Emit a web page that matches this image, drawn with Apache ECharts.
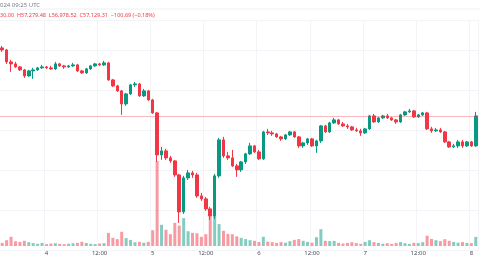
<!DOCTYPE html>
<html>
<head>
<meta charset="utf-8">
<script src="https://cdn.jsdelivr.net/npm/echarts@6/dist/echarts.min.js"></script>
<style>
  html, body { margin: 0; padding: 0; background: #fff; }
  #main { width: 480px; height: 270px; }
</style>
</head>
<body>
<div id="main"></div>
<script>
// 1h candles, Aug 3 14:00 -> Aug 8 01:00 UTC
var startDay = 3, startHour = 14, candleCount = 108;
var hours = [];
for (var k = 0; k < candleCount; k++) {
  var h = startHour + k;
  hours.push({ day: startDay + Math.floor(h / 24), hour: h % 24 });
}
var categories = hours.map(function (t) {
  return 'Aug ' + t.day + ' ' + (t.hour < 10 ? '0' : '') + t.hour + ':00';
});

var opens = [62569,62409,61449,61289,61049,60809,60329,60729,60809,60969,61049,60969,60889,61289,61129,61049,61129,61209,60729,60569,60889,61129,61289,61209,
  61369,60009,59529,59129,58089,58889,59609,59689,58729,59129,58409,57369,54009,54329,53769,53529,52409,49449,52169,52569,52409,50729,50489,49689,
  49129,52329,55209,53929,53769,53129,52809,53449,54089,54729,54249,53689,55849,55769,55689,55449,55289,55609,55849,55449,54729,54969,55289,54729,
  55129,56329,55849,56569,56809,56489,56329,56249,56009,55929,55769,56089,57129,56649,56969,57129,56969,56809,56649,57209,57449,57529,57049,57209,
  57369,56089,55929,56009,55849,55049,54649,54729,55049,54729,55049,54729];
var closes = [62409,61449,61289,61049,60809,60329,60729,60809,60969,61049,60969,60889,61289,61129,61049,61129,61209,60729,60569,60889,61129,61289,61209,61369,
  60009,59529,59129,58089,58889,59609,59689,58729,59129,58409,57369,54009,54329,53769,53529,52409,49449,52169,52569,52409,50729,50489,49689,49129,
  52329,55209,53929,53769,53129,52809,53449,54089,54729,54249,53689,55849,55769,55689,55449,55289,55609,55849,55449,54729,54969,55289,54729,55129,
  56329,55849,56569,56809,56489,56329,56249,56009,55929,55769,56089,57129,56649,56969,57129,56969,56809,56649,57209,57449,57529,57049,57209,57369,
  56089,55929,56009,55849,55049,54649,54729,55049,54729,55049,54729,57129.31];
var highs = [62729,62489,61609,61449,61129,60889,60809,60969,61049,61209,61129,61129,61449,61369,61209,61209,61369,61289,60809,60969,61209,61369,61369,61529,
  61449,60089,59609,59209,58969,59689,59849,59769,59289,59209,58489,57449,54649,54489,53929,53609,52489,52329,52809,52729,52569,50969,50649,49849,
  52489,55369,55449,54249,54409,53289,53529,54169,54969,54809,54409,55929,56089,55929,55769,55529,55689,55929,55929,55529,55049,55369,55369,55209,
  56409,56409,56649,56969,56889,56649,56489,56329,56169,56089,56169,57209,57289,57049,57209,57289,57049,56889,57289,57529,57689,57609,57289,57449,
  57449,56249,56169,56169,55929,55129,54889,55209,55209,55129,55129,57449];
var lows = [62249,61289,60649,60969,60729,60169,60249,60089,60729,60889,60889,60809,60809,61049,60889,60969,61049,60649,60489,60489,60809,61049,61129,61129,
  59929,59449,59049,57209,57929,58809,59449,58649,58649,58329,57289,53449,53609,53609,53369,52249,48569,49289,52009,52169,50569,50329,49529,48809,
  48889,52169,53769,53609,53049,52249,52649,53289,54009,54169,53609,53609,55609,55529,55369,55129,55209,55529,55369,54569,54569,54809,54649,54169,
  54969,55769,55769,56489,56409,56249,56089,55929,55849,55529,55689,56009,56569,56569,56889,56889,56729,56489,56569,57129,57369,56969,56969,57129,
  56009,55769,55849,55769,54969,54569,54569,54569,54569,54649,54649,54649];
var volumes = [31,58,92,47,41,52,38,29,22,31,19,24,28,21,18,23,27,31,42,30,22,19,24,28,
  131,82,68,142,79,61,38,42,33,41,158,850,212,163,118,231,204,279,148,131,127,92,118,298,
  301,219,152,121,118,97,81,69,58,52,41,92,43,38,31,39,33,48,61,69,52,41,33,88,
  168,52,49,51,32,24,31,38,29,22,41,58,39,31,22,28,21,31,39,28,21,32,29,38,
  103,71,58,49,68,52,41,33,39,31,28,91];

var lastClose = 57129.31;
var headerDate = '024 09:25 UTC';
var headerOhlc = '30.00  H57,279.48  L56,978.52  C57,129.31  \u2212100.69 (\u22120.18%)';

var upColor = '#089981', downColor = '#f23645';

function isTick(idx) {
  var t = hours[idx];
  return t.hour === 0 || t.hour === 12;
}

var candleData = opens.map(function (o, i) { return [o, closes[i], lows[i], highs[i]]; });
var volumeData = volumes.map(function (v, i) {
  return {
    value: v,
    itemStyle: { color: closes[i] >= opens[i] ? 'rgba(8,153,129,0.5)' : 'rgba(242,54,69,0.5)' }
  };
});

var chart = echarts.init(document.getElementById('main'));
chart.setOption({
  animation: false,
  backgroundColor: '#fff',
  graphic: [
    { type: 'text', left: 0, top: 2, style: { text: headerDate, fill: '#787b86', font: '6px "Noto Sans"' } },
    { type: 'line', shape: { x1: 0, y1: 9, x2: 480, y2: 9 }, style: { stroke: '#eceff4', lineWidth: 1 } },
    { type: 'text', left: 0, top: 12, style: { text: headerOhlc, fill: '#f23645', font: '5.5px "Noto Sans"' } }
  ],
  grid: [
    { left: -2, right: 2, top: 20, height: 230 },
    { left: -2, right: 2, top: 146, height: 100 }
  ],
  xAxis: [
    {
      type: 'category', gridIndex: 0, data: categories, boundaryGap: true,
      axisLine: { show: false }, axisTick: { show: false }, axisLabel: { show: false },
      splitLine: { show: true, interval: function (i) { return isTick(i); }, lineStyle: { color: '#f2f4f7' } }
    },
    {
      type: 'category', gridIndex: 1, data: categories, boundaryGap: true,
      axisLine: { show: false }, axisTick: { show: false },
      axisLabel: {
        interval: function (i) { return isTick(i); },
        formatter: function (v, i) { var t = hours[i]; return t.hour === 0 ? String(t.day) : '12:00'; },
        fontSize: 6, color: '#4a4d57', margin: 4, fontFamily: 'Noto Sans'
      },
      splitLine: { show: false }
    }
  ],
  yAxis: [
    {
      type: 'value', gridIndex: 0, min: 46400, max: 64800, interval: 3200,
      axisLabel: { show: false }, axisLine: { show: false }, axisTick: { show: false },
      splitLine: { show: true, lineStyle: { color: '#f2f4f7' } }
    },
    {
      type: 'value', gridIndex: 1, min: 0, max: 1000, show: false,
      splitLine: { show: false }
    }
  ],
  series: [
    {
      type: 'bar', name: 'Volume', xAxisIndex: 1, yAxisIndex: 1,
      data: volumeData, barWidth: 3, z: 1
    },
    {
      type: 'candlestick', name: 'BTCUSD', xAxisIndex: 0, yAxisIndex: 0,
      data: candleData, barWidth: 3, z: 2,
      itemStyle: { color: upColor, color0: downColor, borderColor: upColor, borderColor0: downColor, borderWidth: 1 },
      markLine: {
        silent: true, symbol: 'none', label: { show: false },
        lineStyle: { color: 'rgba(242,54,69,0.35)', type: 'solid', width: 1 },
        data: [{ yAxis: lastClose }]
      }
    }
  ]
});
</script>
</body>
</html>
